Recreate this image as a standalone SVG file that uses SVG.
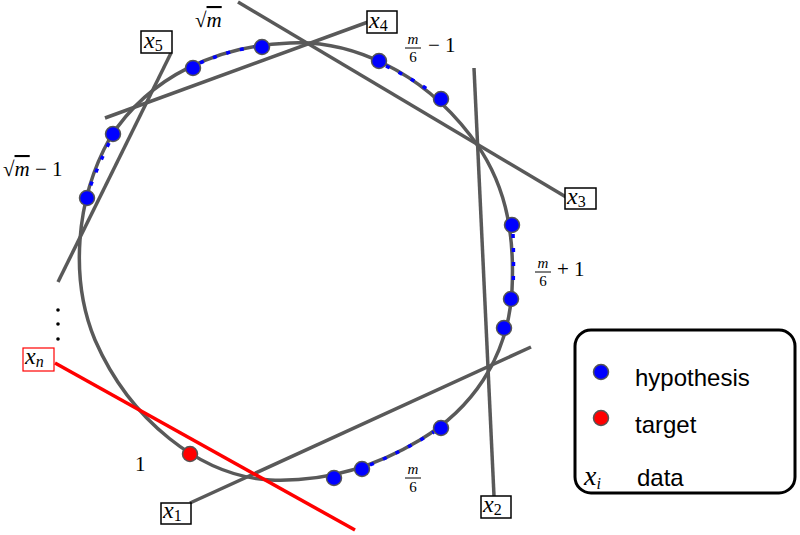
<svg xmlns="http://www.w3.org/2000/svg" width="800" height="535" viewBox="0 0 800 535">
<style>
.ln{stroke:#595959;stroke-width:3.5;fill:none}
.hb{fill:#0000ff;stroke:#555;stroke-width:1.5}
.tg{fill:#ff0000;stroke:#555;stroke-width:1.5}
.ds{stroke:#0000ff;stroke-width:3.5;stroke-dasharray:4 10;fill:none}
.bx{fill:#fff;stroke:#000;stroke-width:1.5}
.v{font-family:"Liberation Serif",serif;font-style:italic;font-size:24px}
.t{font-family:"Liberation Serif",serif;font-size:21px}
.s{font-family:"Liberation Serif",serif;font-style:normal;font-size:16px}
.sv{font-family:"Liberation Serif",serif;font-style:italic;font-size:16px}
.fr{font-family:"Liberation Serif",serif;font-size:15px}
.lg{font-family:"Liberation Sans",sans-serif;font-size:24px}
</style>
<rect width="800" height="535" fill="#fff"/>
<g id="connectors">
<path class="ln" d="M290,43 C350,40 420,70 470,135 C505,180 515,230 512,290 C508,360 470,410 420,440 C370,470 320,482 270,480 C200,476 130,420 95,340 C70,280 75,200 110,138 C150,75 220,45 290,43 Z"/>
<line class="ln" x1="171" y1="53" x2="58" y2="282"/>
<line class="ln" x1="368" y1="22" x2="105" y2="118"/>
<line class="ln" x1="238" y1="2" x2="566" y2="197"/>
<line class="ln" x1="474" y1="68" x2="494" y2="496"/>
<line class="ln" x1="190" y1="503" x2="531" y2="347"/>
<line x1="55" y1="363" x2="355" y2="530" stroke="#ff0000" stroke-width="3.5"/>
<path class="ds" d="M200,63 Q230,50 255,47"/>
<path class="ds" d="M386,66 Q415,80 434,94"/>
<path class="ds" d="M109,143 Q97,168 89,190"/>
<path class="ds" d="M513,234 Q514,262 513,290"/>
<path class="ds" d="M370,465 Q405,450 434,432"/>
</g>
<g id="hypotheses">
<circle class="hb" cx="193" cy="68" r="7.5"/><circle class="hb" cx="262" cy="47" r="7.5"/>
<circle class="hb" cx="379" cy="61" r="7.5"/><circle class="hb" cx="441" cy="99" r="7.5"/>
<circle class="hb" cx="113" cy="134" r="7.5"/><circle class="hb" cx="87" cy="198" r="7.5"/>
<circle class="hb" cx="512" cy="225" r="7.5"/><circle class="hb" cx="511" cy="299" r="7.5"/>
<circle class="hb" cx="504" cy="328" r="7.5"/><circle class="hb" cx="441" cy="428" r="7.5"/>
<circle class="hb" cx="362" cy="469" r="7.5"/><circle class="hb" cx="334" cy="478" r="7.5"/>
</g>
<g id="target"><circle class="tg" cx="190" cy="454" r="7.5"/></g>
<g id="x5"><rect class="bx" x="141" y="31" width="31" height="22"/><text class="v" x="144" y="48">x<tspan class="s" dy="3">5</tspan></text></g>
<g id="x4"><rect class="bx" x="367" y="11" width="30" height="22"/><text class="v" x="369" y="28">x<tspan class="s" dy="3">4</tspan></text></g>
<g id="x3"><rect class="bx" x="565" y="188" width="31" height="21"/><text class="v" x="567" y="204">x<tspan class="s" dy="3">3</tspan></text></g>
<g id="x2"><rect class="bx" x="481" y="496" width="30" height="22"/><text class="v" x="483" y="512">x<tspan class="s" dy="3">2</tspan></text></g>
<g id="x1"><rect class="bx" x="161" y="503" width="30" height="21"/><text class="v" x="163" y="518">x<tspan class="s" dy="3">1</tspan></text></g>
<g id="xn"><rect x="23" y="348" width="31" height="23" fill="#fff" stroke="#ff0000" stroke-width="1.2"/><text class="v" x="25" y="364">x<tspan class="sv" dy="3">n</tspan></text></g>
<g id="labels">
<text class="t" x="195" y="27">√<tspan font-style="italic" text-decoration="overline">m</tspan></text>
<text class="t" x="3" y="176">√<tspan font-style="italic" text-decoration="overline">m</tspan> − 1</text>
<text class="t" x="135" y="471">1</text>
<g class="fr" text-anchor="middle">
<text x="413" y="44" font-style="italic">m</text><text x="413" y="62">6</text>
<text x="543" y="268" font-style="italic">m</text><text x="543" y="286">6</text>
<text x="413" y="474" font-style="italic">m</text><text x="413" y="492">6</text>
</g>
<g stroke="#000" stroke-width="1"><line x1="405" y1="48" x2="421" y2="48"/><line x1="535" y1="272" x2="551" y2="272"/><line x1="405" y1="478" x2="421" y2="478"/></g>
<text class="t" x="428" y="52">− 1</text>
<text class="t" x="557" y="276">+ 1</text>
<circle cx="58" cy="310" r="1.8"/><circle cx="58" cy="324" r="1.8"/><circle cx="58" cy="339" r="1.8"/>
</g>
<g id="legend">
<rect x="575" y="330" width="220" height="163" rx="16" fill="#fff" stroke="#000" stroke-width="3"/>
<circle class="hb" cx="601" cy="372" r="7.5"/><text class="lg" x="635" y="386">hypothesis</text>
<circle class="tg" cx="601" cy="418" r="7.5"/><text class="lg" x="635" y="433">target</text>
<text class="v" x="584" y="485" style="font-size:28px">x<tspan class="sv" dy="4">i</tspan></text><text class="lg" x="637" y="486">data</text>
</g>
</svg>
